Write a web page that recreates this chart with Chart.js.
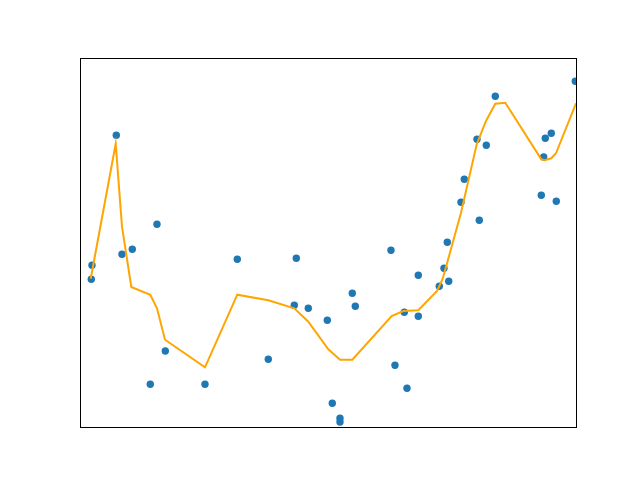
<!doctype HTML>
<html lang="en">
<head>
    <meta charset=utf-8>
    <title>Scatter with fit</title>
    <style type="text/css">
        * {
            padding: 0;
            margin: 0;
        }

        body {
            background: #fff;
        }

        div {
            width: 640px;
            height: 480px;
        }
    </style>
    <script src="https://cdn.jsdelivr.net/npm/chart.js"></script>
</head>
<body>
    <div>
        <canvas id="fitChart" width="640" height="480"></canvas>
    </div>

    <script type="text/javascript">
        // samples (x, y)
        const sampleX = [11.3, 12, 36.3, 42, 52.3, 70.3, 77, 85.3, 125, 157.3,
            188.3, 214.3, 216.3, 228.3, 247.3, 252.3, 260, 260, 272.3, 275.3,
            311, 315, 324.3, 327, 338.3, 338.3, 359.3, 364, 367.3, 368.7,
            381, 384.3, 397, 399.3, 406.3, 415.3, 461.3, 463.7, 465.3, 471.3,
            476.3, 495.3];
        const sampleY = [147.7, 161.7, 291.7, 172.7, 177.7, 42.7, 202.7, 76, 42.7, 167.7,
            67.7, 121.7, 168.7, 118.7, 106.7, 23.7, 8.7, 5, 133.7, 120.7,
            176.7, 61.7, 114.7, 38.7, 110.7, 151.7, 140.7, 158.7, 184.7, 145.7,
            224.7, 247.7, 287.7, 206.7, 281.7, 330.7, 231.7, 270, 288.7, 293.7,
            225.7, 345.7];

        // fitted curve
        const fitX = [10.7, 35.7, 42, 51.3, 70.3, 77, 85, 125, 157.3, 188.3,
            214.3, 228.3, 248.3, 260, 272.3, 311.7, 323.3, 338.3, 357.3, 362.7,
            366, 381, 396.7, 406, 415.3, 425.3, 461.3, 464.7, 471.3, 476, 496];
        const fitY = [148.3, 283.3, 200.3, 140, 132.3, 118.7, 87.3, 59.7, 132.3, 126.7,
            118.7, 105.3, 77.7, 67.3, 67.3, 111, 116, 116.7, 136.3, 148.3,
            160, 214.3, 282.7, 306, 323.3, 324.3, 267.7, 266.7, 268.7, 273.7, 323.7];

        const frame = {
            id: 'frame',
            afterDraw(chart) {
                const a = chart.chartArea;
                const ctx = chart.ctx;
                ctx.save();
                ctx.strokeStyle = '#000';
                ctx.lineWidth = 1;
                ctx.strokeRect(a.left + 0.5, a.top + 0.5, a.right - a.left, a.bottom - a.top);
                ctx.restore();
            }
        };

        const config = {
            type: 'scatter',
            data: {
                datasets: [{
                    label: 'fit',
                    type: 'line',
                    data: fitX.map((x, i) => ({x: x, y: fitY[i]})),
                    borderColor: '#ffa500',
                    borderWidth: 2,
                    pointRadius: 0,
                    fill: false,
                    tension: 0,
                    order: 0,
                    clip: 0
                }, {
                    label: 'samples',
                    data: sampleX.map((x, i) => ({x: x, y: sampleY[i]})),
                    backgroundColor: '#1f77b4',
                    borderWidth: 0,
                    pointRadius: 3.7,
                    order: 1,
                    clip: 0
                }]
            },
            options: {
                responsive: false,
                animation: false,
                layout: {
                    padding: {left: 80, right: 64, top: 58, bottom: 53}
                },
                plugins: {
                    legend: {display: false},
                    tooltip: {enabled: false}
                },
                scales: {
                    x: {type: 'linear', min: 0, max: 496, display: false},
                    y: {type: 'linear', min: 0, max: 369, display: false}
                }
            },
            plugins: [frame]
        };

        new Chart(document.getElementById('fitChart'), config);
    </script>
</body>
</html>
